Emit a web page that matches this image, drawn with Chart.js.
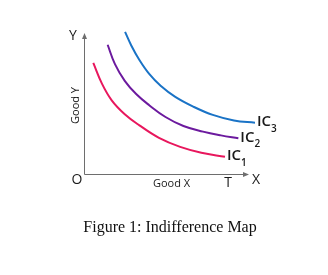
<!DOCTYPE html>
<html>
<head>
<meta charset="utf-8">
<script src="https://cdn.jsdelivr.net/npm/chart.js@4"></script>
<style>
  html, body { margin: 0; padding: 0; background: #fff; }
  #wrap { position: relative; width: 328px; height: 275px; }
  #caption {
    position: absolute; left: 6px; right: -6px; top: 218px;
    text-align: center; font-family: "Liberation Serif", "Times New Roman", serif;
    font-size: 16px; line-height: 18px; color: #111;
  }
</style>
</head>
<body>
<div id="wrap">
  <canvas id="chart" width="328" height="275"></canvas>
  <div id="caption">Figure 1: Indifference Map</div>
</div>
<script>
// curve points (x = Good X, y = Good Y)
const ic1X = [5.7, 11, 17, 25, 34, 46, 59, 72, 86.5];
const ic1Y = [79.9, 65, 53, 43, 35, 26, 19.5, 15.3, 12.4];
const ic2X = [14.5, 19, 25, 32, 40, 50, 61, 73, 84, 94.7];
const ic2Y = [93, 79, 67, 57.5, 49.5, 41, 34.5, 30.5, 27.8, 25.7];
const ic3X = [25.2, 29, 34, 40, 47, 56, 67, 79, 92, 104.9];
const ic3Y = [102.2, 92.5, 82, 72, 63.5, 55.5, 48.5, 42.5, 38.5, 36.9];

const curveNames = ['1', '2', '3'];
const curveColors = ['#e8175d', '#6c1a9e', '#1a73c6'];
const axisEnd = 100;

function toPoints(xs, ys) {
  return xs.map((x, i) => ({ x, y: ys[i] }));
}

// draws the axes, arrows and the letters around them
const axisPlugin = {
  id: 'axisPlugin',
  afterDatasetsDraw(chart) {
    const { ctx, scales } = chart;
    const x0 = scales.x.getPixelForValue(0);
    const y0 = scales.y.getPixelForValue(0);
    const xEnd = scales.x.getPixelForValue(axisEnd);
    const yEnd = scales.y.getPixelForValue(axisEnd);

    ctx.save();
    ctx.strokeStyle = '#6e6e6e';
    ctx.fillStyle = '#6e6e6e';
    ctx.lineWidth = 1;
    ctx.beginPath();
    ctx.moveTo(x0 + 0.5, yEnd + 2);
    ctx.lineTo(x0 + 0.5, y0 + 0.5);
    ctx.lineTo(xEnd - 2, y0 + 0.5);
    ctx.stroke();

    ctx.beginPath();
    ctx.moveTo(x0 + 0.5, yEnd - 2);
    ctx.lineTo(x0 - 2, yEnd + 4);
    ctx.lineTo(x0 + 3, yEnd + 4);
    ctx.closePath();
    ctx.fill();

    ctx.beginPath();
    ctx.moveTo(xEnd + 2, y0 + 0.5);
    ctx.lineTo(xEnd - 4, y0 - 2);
    ctx.lineTo(xEnd - 4, y0 + 3);
    ctx.closePath();
    ctx.fill();

    ctx.fillStyle = '#1a1a1a';
    ctx.textAlign = 'center';
    ctx.textBaseline = 'middle';
    ctx.font = '14px "Open Sans", sans-serif';
    ctx.fillText('Y', x0 - 11, yEnd + 1);
    ctx.fillText('O', x0 - 7, y0 + 6);
    ctx.fillText('X', xEnd + 9, y0 + 6);
    ctx.fillText('T', xEnd - 19, y0 + 9);

    ctx.font = '11px "Open Sans", sans-serif';
    ctx.fillText('Good X', (x0 + xEnd) / 2 + 6, y0 + 10);
    ctx.save();
    ctx.translate(x0 - 8, (y0 + yEnd) / 2 + 1);
    ctx.rotate(-Math.PI / 2);
    ctx.fillText('Good Y', 0, 0);
    ctx.restore();

    // curve labels next to the end of each curve
    chart.data.datasets.forEach((ds, i) => {
      const meta = chart.getDatasetMeta(i);
      const last = meta.data[meta.data.length - 1];
      const lx = last.x + 2;
      const ly = last.y - 1;
      ctx.textAlign = 'left';
      ctx.font = '600 15px "Open Sans", sans-serif';
      ctx.fillStyle = '#1a1a1a';
      ctx.fillText('IC', lx, ly);
      const w = ctx.measureText('IC').width;
      ctx.font = '600 10px "Open Sans", sans-serif';
      ctx.fillText(curveNames[i], lx + w, ly + 7);
    });
    ctx.restore();
  }
};

const dataSets = [
  toPoints(ic1X, ic1Y),
  toPoints(ic2X, ic2Y),
  toPoints(ic3X, ic3Y)
];

new Chart(document.getElementById('chart'), {
  type: 'line',
  data: {
    datasets: dataSets.map((pts, i) => ({
      label: 'IC' + curveNames[i],
      data: pts,
      borderColor: curveColors[i],
      borderWidth: 2,
      pointRadius: 0,
      fill: false,
      tension: 0.4
    }))
  },
  options: {
    responsive: false,
    animation: false,
    devicePixelRatio: 1,
    layout: { padding: { left: 84, right: 64.7, top: 21.1, bottom: 101 } },
    plugins: { legend: { display: false }, tooltip: { enabled: false } },
    scales: {
      x: { type: 'linear', min: 0, max: 110, display: false },
      y: { type: 'linear', min: 0, max: 110, display: false }
    }
  },
  plugins: [axisPlugin]
});
</script>
</body>
</html>
